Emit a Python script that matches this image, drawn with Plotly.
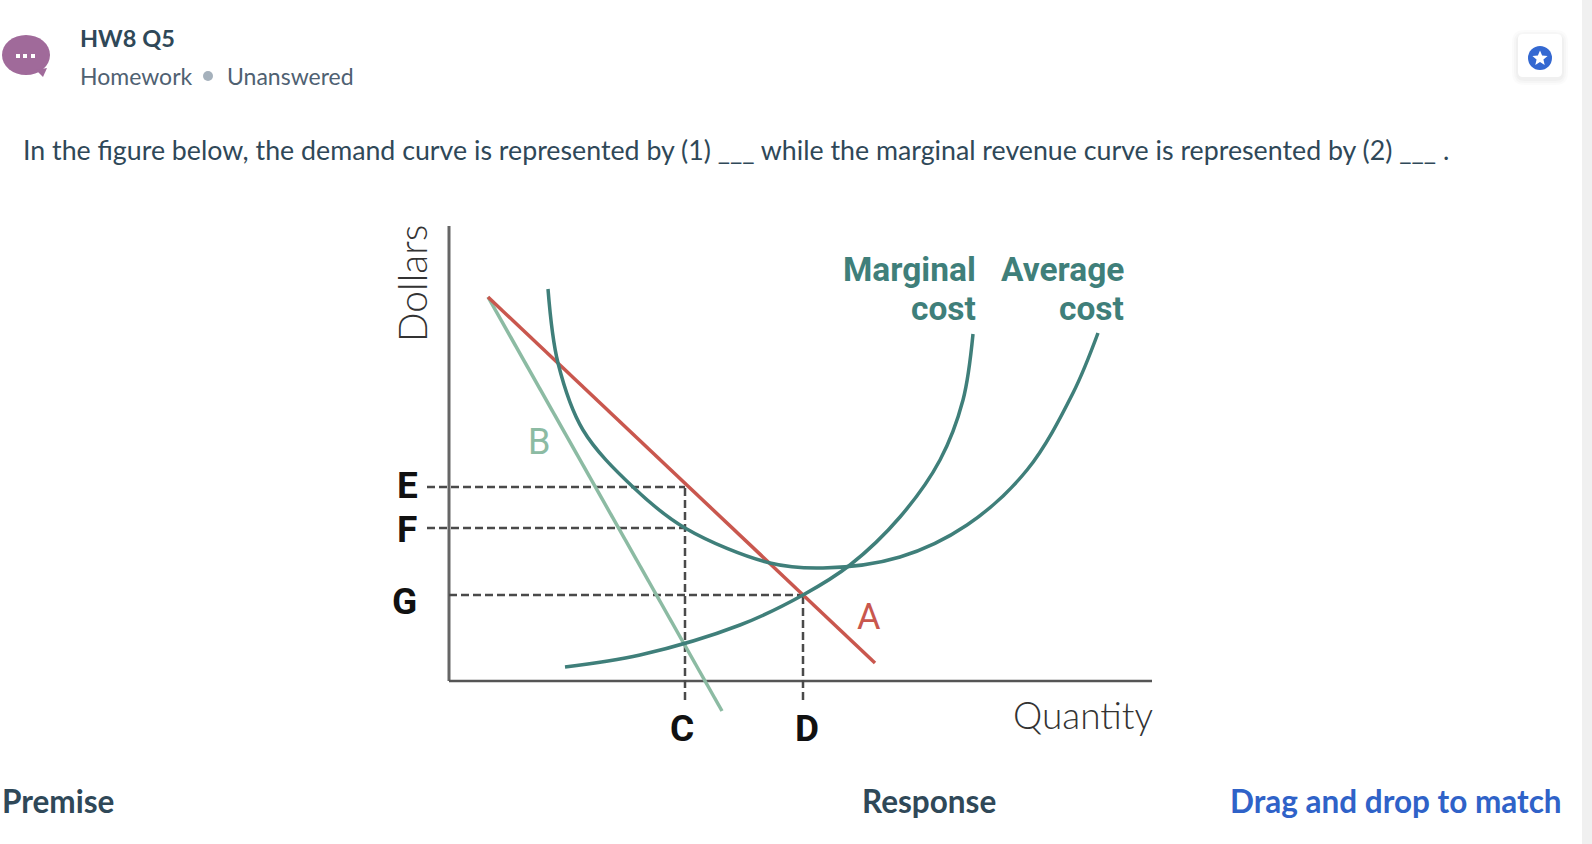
import math

import plotly.graph_objects as go

W, H = 1592, 844
X0, Y0 = 449, 681
X_MAX, Y_MAX = 703, 455
X_LOW, Y_LOW = -60, -70

# values, in scale units from the origin
demand_q = [39, 426]
demand_d = [384, 18]
mr_q = [39, 273]
mr_d = [384, -30]
mc_q = [116, 191, 291, 354, 401, 451, 491, 514, 524]
mc_d = [14, 26, 56, 86, 116, 164, 221, 281, 347]
ac_q = [99, 109, 134, 184, 236, 321, 374, 451, 518, 578, 624, 649]
ac_d = [392, 318, 251, 194, 153, 118, 113, 124, 156, 211, 288, 348]

q_ticks = ["C", "D"]
q_tick_vals = [236, 354]
d_ticks = ["E", "F", "G"]
d_tick_vals = [194, 153, 86]

TEAL = "#3f7f7a"
RED = "#c9574e"
GREEN = "#8cbba3"
DASH = "#4a4a4a"
INK = "#2f4858"
SUB = "#4f6172"
BLUE = "#2f62c8"
NARROW = "Roboto"
BODY = "Lato"


def px(x):
    return x / W


def py(y):
    return 1 - y / H


def rounded(x0, y0, x1, y1, r):
    return (
        f"M {px(x0 + r)} {py(y0)} L {px(x1 - r)} {py(y0)} Q {px(x1)} {py(y0)} {px(x1)} {py(y0 + r)} "
        f"L {px(x1)} {py(y1 - r)} Q {px(x1)} {py(y1)} {px(x1 - r)} {py(y1)} "
        f"L {px(x0 + r)} {py(y1)} Q {px(x0)} {py(y1)} {px(x0)} {py(y1 - r)} "
        f"L {px(x0)} {py(y0 + r)} Q {px(x0)} {py(y0)} {px(x0 + r)} {py(y0)} Z"
    )


def poly(points):
    return "M " + " L ".join(f"{px(x)} {py(y)}" for x, y in points) + " Z"


def oval(x0, y0, x1, y1, color):
    return dict(type="circle", xref="paper", yref="paper", x0=px(x0), x1=px(x1),
                y0=py(y1), y1=py(y0), fillcolor=color, line_width=0, layer="above")


def label(x, y, text, size, color, font=BODY, bold=False, anchor="left", angle=0):
    return dict(xref="paper", yref="paper", x=px(x), y=py(y), text=f"<b>{text}</b>" if bold else text,
                showarrow=False, xanchor=anchor, yanchor="middle", textangle=angle,
                font=dict(family=font, size=size, color=color), borderpad=0)


def curve(x, y, color, width=3.5, dash=None, shape="linear"):
    return go.Scatter(x=x, y=y, mode="lines", hoverinfo="skip", showlegend=False,
                      line=dict(color=color, width=width, dash=dash, shape=shape))


fig = go.Figure()

# axes, drawn as lines because the guides run past them
fig.add_trace(curve([0, 0], [0, Y_MAX], "#666666", 3))
fig.add_trace(curve([0, X_MAX], [0, 0], "#555555", 2.6))

guide = "8px,4px"
fig.add_trace(curve([-22, q_tick_vals[0]], [d_tick_vals[0]] * 2, DASH, 2.5, guide))
fig.add_trace(curve([-22, q_tick_vals[0]], [d_tick_vals[1]] * 2, DASH, 2.5, guide))
fig.add_trace(curve([0, q_tick_vals[1]], [d_tick_vals[2]] * 2, DASH, 2.5, guide))
fig.add_trace(curve([q_tick_vals[0]] * 2, [-19, d_tick_vals[0]], DASH, 2.5, guide))
fig.add_trace(curve([q_tick_vals[1]] * 2, [-19, d_tick_vals[2]], DASH, 2.5, guide))
fig.add_trace(curve(mr_q, mr_d, GREEN))
fig.add_trace(curve(demand_q, demand_d, RED))
fig.add_trace(curve(mc_q, mc_d, TEAL, shape="spline"))
fig.add_trace(curve(ac_q, ac_d, TEAL, shape="spline"))

shapes = [
    dict(type="rect", xref="paper", yref="paper", x0=px(1582), x1=1, y0=0, y1=1,
         fillcolor="#f0f0f0", line_width=0, layer="below"),
    oval(2, 35, 50, 75, "#a06a9a"),
    dict(type="path", xref="paper", yref="paper", path=poly([(36, 70), (47, 68), (43, 77)]),
         fillcolor="#a06a9a", line_width=0, layer="above"),
    oval(203, 71, 213, 81, "#a5b1bc"),
]
for spread, alpha in [(6, 0.015), (4, 0.02), (2, 0.025)]:
    shapes.append(dict(type="path", xref="paper", yref="paper",
                       path=rounded(1518 - spread, 34 - spread + 2, 1562 + spread, 77 + spread + 2, 6 + spread),
                       fillcolor=f"rgba(0,0,0,{alpha})", line_width=0, layer="above"))
shapes.append(dict(type="path", xref="paper", yref="paper", path=rounded(1518, 34, 1562, 77, 5),
                   fillcolor="#ffffff", line_width=0, layer="above"))
shapes.append(oval(1528, 46, 1552, 70, "#3468d1"))
star = []
for i in range(10):
    r = 8 if i % 2 == 0 else 3.6
    a = math.pi * i / 5 - math.pi / 2
    star.append((1540 + r * math.cos(a), 58.5 + r * math.sin(a)))
shapes.append(dict(type="path", xref="paper", yref="paper", path=poly(star),
                   fillcolor="#ffffff", line_width=0, layer="above"))
for x in (16, 23, 31):
    shapes.append(dict(type="rect", xref="paper", yref="paper", x0=px(x), x1=px(x + 4),
                       y0=py(58), y1=py(54), fillcolor="#ffffff", line_width=0, layer="above"))

question = ("In the figure below, the demand curve is represented by (1) ___ while the "
            "marginal revenue curve is represented by (2) ___ .")

annotations = [
    label(79, 38, "HW8 Q5", 23.5, INK, bold=True),
    label(79, 76, "Homework", 23, SUB),
    label(226, 76, "Unanswered", 23, SUB),
    label(22, 150, question, 26.75, INK),
    label(412, 284, "Dollars", 39, "#333333", font="Lato Light", angle=-90, anchor="center"),
    label(1154, 714, "Quantity", 37, "#333333", font="Lato Light", anchor="right"),
    label(977, 269, "<b>Marginal</b>", 33.5, TEAL, font=NARROW, anchor="right"),
    label(977, 309, "<b>cost</b>", 33.5, TEAL, font=NARROW, anchor="right"),
    label(1125, 269, "<b>Average</b>", 33.5, TEAL, font=NARROW, anchor="right"),
    label(1125, 309, "<b>cost</b>", 33.5, TEAL, font=NARROW, anchor="right"),
    label(869, 617, "A", 36, RED, font=NARROW, anchor="center"),
    label(539, 442, "B", 36, GREEN, font=NARROW, anchor="center"),
    label(1, 801, "Premise", 31.5, INK, bold=True),
    label(861, 801, "Response", 31.5, INK, bold=True),
    label(1563, 801, "Drag and drop to match", 31.5, BLUE, bold=True, anchor="right"),
]
for name, val, offset in zip(q_ticks, q_tick_vals, [-3, 4]):
    annotations.append(dict(xref="x", yref="y", x=val + offset, y=-47, text=f"<b>{name}</b>", showarrow=False,
                            font=dict(family=NARROW, size=37, color="#111111")))
for name, val, offset, xpos in zip(d_ticks, d_tick_vals, [2, -1, -6], [-42, -42, -45]):
    annotations.append(dict(xref="x", yref="y", x=xpos, y=val + offset, text=f"<b>{name}</b>", showarrow=False,
                            font=dict(family=NARROW, size=37, color="#111111")))

axis = dict(visible=False, showgrid=False, zeroline=False)
fig.update_layout(
    width=W, height=H, autosize=False,
    margin=dict(l=0, r=0, t=0, b=0),
    paper_bgcolor="#ffffff", plot_bgcolor="rgba(0,0,0,0)",
    xaxis=dict(axis, range=[X_LOW, X_MAX + 10], domain=[px(X0 + X_LOW), px(X0 + X_MAX + 10)]),
    yaxis=dict(axis, range=[Y_LOW, Y_MAX + 10], domain=[py(Y0 - Y_LOW), py(Y0 - Y_MAX - 10)]),
    shapes=shapes, annotations=annotations,
)

fig.write_html("out.html", config={"displayModeBar": False},
               post_script="document.body.style.margin = '0';")
